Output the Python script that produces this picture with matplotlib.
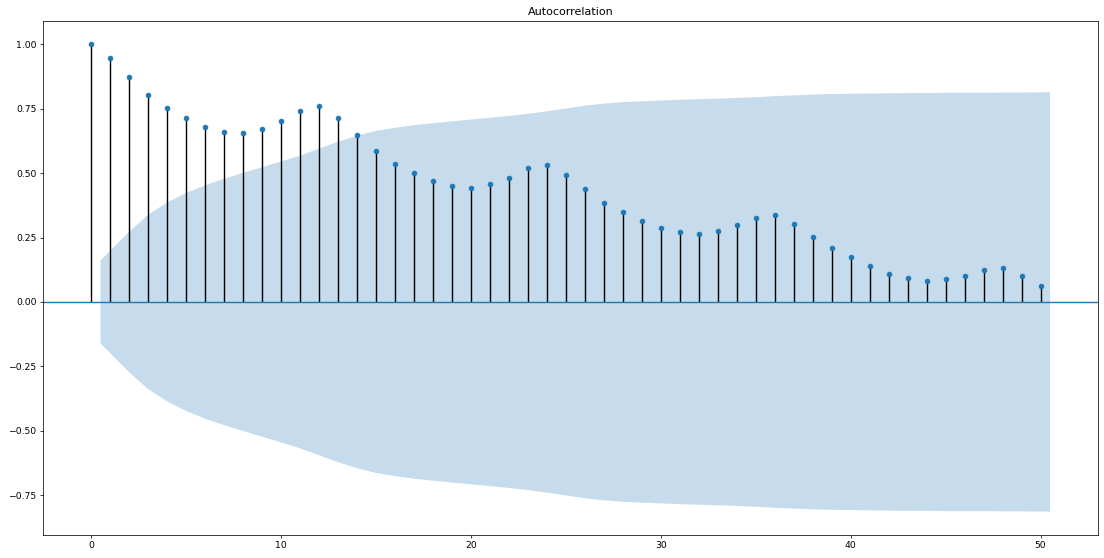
import matplotlib
matplotlib.use("Agg")
import matplotlib.pyplot as plt
import numpy as np

# autocorrelation at lags 0..50
acf_vals = [1.000, 0.948, 0.875, 0.805, 0.753, 0.713, 0.680, 0.661, 0.655, 0.673,
            0.703, 0.743, 0.761, 0.713, 0.647, 0.585, 0.537, 0.501, 0.471, 0.449,
            0.441, 0.456, 0.482, 0.519, 0.533, 0.493, 0.438, 0.386, 0.349, 0.316,
            0.287, 0.272, 0.265, 0.276, 0.298, 0.327, 0.339, 0.302, 0.254, 0.210,
            0.174, 0.140, 0.110, 0.092, 0.080, 0.088, 0.102, 0.125, 0.132, 0.102,
            0.062]

# half-width of the confidence band at lags 1..50
band = [0.161, 0.272, 0.338, 0.386, 0.423, 0.453, 0.478, 0.501, 0.523, 0.545,
        0.568, 0.595, 0.622, 0.645, 0.664, 0.676, 0.686, 0.694, 0.701, 0.708,
        0.715, 0.722, 0.730, 0.740, 0.751, 0.762, 0.770, 0.776, 0.779, 0.782,
        0.785, 0.787, 0.789, 0.792, 0.795, 0.799, 0.802, 0.805, 0.807, 0.808,
        0.809, 0.810, 0.811, 0.811, 0.812, 0.812, 0.812, 0.813, 0.813, 0.814]

lags = np.arange(len(acf_vals))
acf_vals = np.array(acf_vals)
band = np.array(band)

fig = plt.figure(figsize=(16.56, 8.37), dpi=200 / 3)
ax = fig.add_subplot(111)
fig.subplots_adjust(left=0.039, right=0.9946, bottom=0.0412, top=0.9624)

ax.vlines(lags, [0], acf_vals, colors="black")
ax.axhline(0)
ax.plot(lags, acf_vals, "o", markersize=5)

band_x = lags[1:].astype(float)
band_x[0] -= 0.5
band_x[-1] += 0.5
ax.fill_between(band_x, -band, band, alpha=0.25, linewidth=0)

ax.set_title("Autocorrelation")

fig.savefig("out.png", dpi=200 / 3)
